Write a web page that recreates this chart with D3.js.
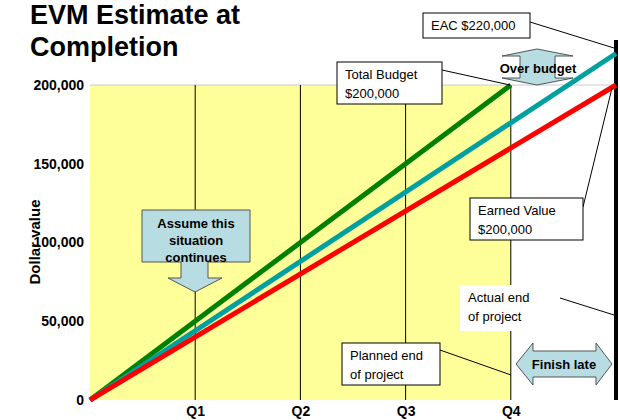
<!DOCTYPE html>
<html><head><meta charset="utf-8">
<script src="https://cdn.jsdelivr.net/npm/d3@7"></script>
<style>body{margin:0;background:#fff}text{font-family:Arial,"Liberation Sans",sans-serif}</style>
</head><body>
<svg id="c" width="620" height="420"></svg>
<script>
var quarters = ['Q1', 'Q2', 'Q3', 'Q4']
var yTicks = [0, 50000, 100000, 150000, 200000]
// [quarter, dollars]
var planned = [[0, 0], [4, 200000]]
var eac = [[0, 0], [5, 220000]]
var earned = [[0, 0], [5, 200000]]

var svg = d3.select('#c')
var x = d3.scaleLinear().domain([0, 5]).range([90, 616])
var y = d3.scaleLinear().domain([0, 200000]).range([400, 85])

svg.append('rect').attr('x', x(0)).attr('y', y(200000))
  .attr('width', x(4) - x(0)).attr('height', y(0) - y(200000)).attr('fill', '#ffff99')
svg.append('line').attr('x1', x(0)).attr('x2', x(5)).attr('y1', y(200000)).attr('y2', y(200000))
  .attr('stroke', '#ccc')
quarters.forEach(function(q, i){
  svg.append('line').attr('x1', x(i + 1)).attr('x2', x(i + 1)).attr('y1', y(200000)).attr('y2', y(0))
    .attr('stroke', '#000')
})
svg.append('line').attr('x1', x(5)).attr('x2', x(5)).attr('y1', 40).attr('y2', 400)
  .attr('stroke', '#000').attr('stroke-width', 4)

var ya = svg.append('g').attr('transform', 'translate(' + x(0) + ',0)')
  .call(d3.axisLeft(y).tickValues(yTicks).tickFormat(d3.format(',')).tickSize(0).tickPadding(6))
ya.select('.domain').remove()
ya.selectAll('text').attr('font-size', 14).attr('font-weight', 'bold')
var xa = svg.append('g').attr('transform', 'translate(0,' + y(0) + ')')
  .call(d3.axisBottom(x).tickValues([1, 2, 3, 4]).tickFormat(function(d){ return quarters[d - 1] }).tickSize(0).tickPadding(6))
xa.select('.domain').remove()
xa.selectAll('text').attr('font-size', 14).attr('font-weight', 'bold')

svg.append('text').attr('transform', 'translate(40,242) rotate(-90)').attr('text-anchor', 'middle')
  .attr('font-size', 15).attr('font-weight', 'bold').text('Dollar value')

var line = d3.line().x(function(d){ return x(d[0]) }).y(function(d){ return y(d[1]) })
;[[planned, '#008000'], [eac, '#00a0a0'], [earned, '#ff0000']].forEach(function(s){
  svg.append('path').attr('d', line(s[0])).attr('stroke', s[1]).attr('stroke-width', 5).attr('fill', 'none')
})

svg.append('text').attr('x', 30).attr('y', 24).attr('font-size', 27).attr('font-weight', 'bold').text('EVM Estimate at')
svg.append('text').attr('x', 30).attr('y', 56).attr('font-size', 27).attr('font-weight', 'bold').text('Completion')

function box(bx, by, w, h, lines, lx1, ly1, lx2, ly2, border){
  svg.append('line').attr('x1', lx1).attr('y1', ly1).attr('x2', lx2).attr('y2', ly2).attr('stroke', '#000')
  svg.append('rect').attr('x', bx).attr('y', by).attr('width', w).attr('height', h)
    .attr('fill', '#fff').attr('stroke', border ? '#000' : 'none')
  lines.forEach(function(t, i){
    svg.append('text').attr('x', bx + 8).attr('y', by + 17 + i * 19).attr('font-size', 13).text(t)
  })
}
box(423, 13, 107, 25, ['EAC $220,000'], 530, 22, 614, 48, true)
box(337, 62, 105, 42, ['Total Budget', '$200,000'], 442, 70, 510, 85, true)
box(470, 198, 113, 42, ['Earned Value', '$200,000'], 583, 207, 612, 88, true)
box(460, 285, 100, 46, ['Actual end', 'of project'], 560, 298, 614, 315, false)
box(342, 343, 98, 42, ['Planned end', 'of project'], 440, 350, 511, 375, true)

var fill = '#b7dde3'
svg.append('path').attr('d', 'M142,210H250V262H208V278H222L195,292L168,278H181V262H142Z')
  .attr('fill', fill).attr('stroke', '#555')
;['Assume this', 'situation', 'continues'].forEach(function(t, i){
  svg.append('text').attr('x', 196).attr('y', 228 + i * 17).attr('text-anchor', 'middle')
    .attr('font-size', 13).attr('font-weight', 'bold').text(t)
})
svg.append('path').attr('d', 'M537,49L573,56H555V78H573L537,85L502,78H520V56H502Z')
  .attr('fill', fill).attr('stroke', '#555')
svg.append('text').attr('x', 538).attr('y', 73).attr('text-anchor', 'middle')
  .attr('font-size', 13).attr('font-weight', 'bold').text('Over budget')
svg.append('path').attr('d', 'M516,364L533,343V351H596V343L612,364L596,385V377H533V385Z')
  .attr('fill', fill).attr('stroke', '#555')
svg.append('text').attr('x', 564).attr('y', 369).attr('text-anchor', 'middle')
  .attr('font-size', 13).attr('font-weight', 'bold').text('Finish late')
</script>
</body></html>
